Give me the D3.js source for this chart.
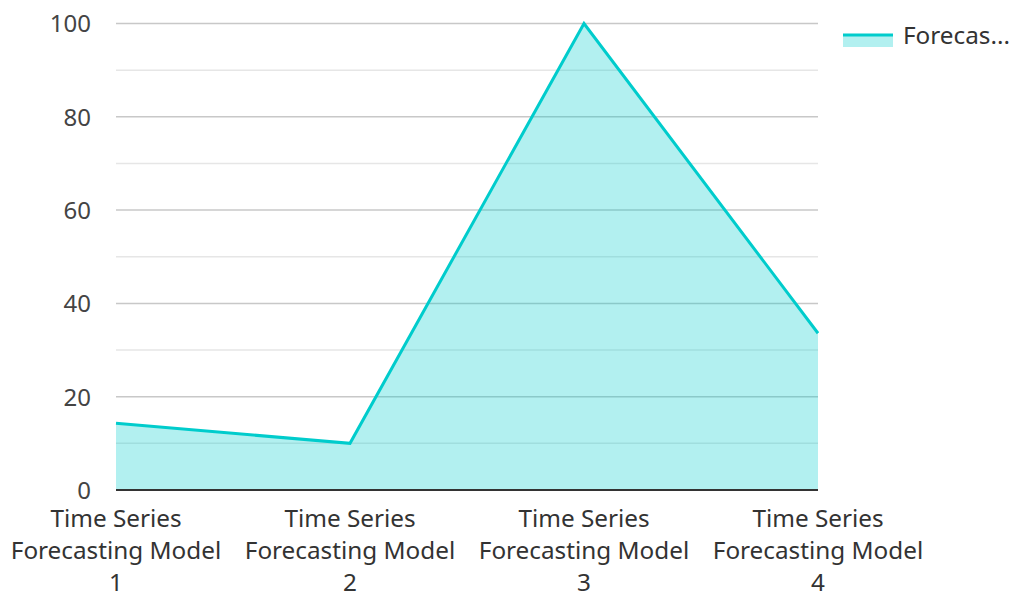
<!DOCTYPE html>
<html><head><meta charset="utf-8">
<script src="https://cdn.jsdelivr.net/npm/d3@7"></script>
<style>body{margin:0;background:#fff}svg{display:block}text{font-family:"Noto Sans",sans-serif}</style>
</head><body><svg id="c" width="1013" height="594"></svg>
<script>
const categories = ["Time Series Forecasting Model 1","Time Series Forecasting Model 2","Time Series Forecasting Model 3","Time Series Forecasting Model 4"];
const labelLines = [["Time Series","Forecasting Model","1"],["Time Series","Forecasting Model","2"],["Time Series","Forecasting Model","3"],["Time Series","Forecasting Model","4"]];
const values = [14.3, 10, 100, 33.6];
const seriesName = "Forecas...";
const yTicks = [0,20,40,60,80,100];
const yMinor = [10,30,50,70,90];

const svg = d3.select("#c");
const x = d3.scalePoint().domain(categories).range([116, 818]);
const y = d3.scaleLinear().domain([0,100]).range([490, 23.5]);

svg.append("g").selectAll("line").data(yMinor).join("line")
  .attr("x1",116).attr("x2",818).attr("y1",d=>y(d)).attr("y2",d=>y(d))
  .attr("stroke","#e6e6e6").attr("stroke-width",1.5);
svg.append("g").selectAll("line").data(yTicks.filter(d=>d>0)).join("line")
  .attr("x1",116).attr("x2",818).attr("y1",d=>y(d)).attr("y2",d=>y(d))
  .attr("stroke","#c8c8c8").attr("stroke-width",1.5);

const yAxis = d3.axisLeft(y).tickValues(yTicks).tickSize(0).tickPadding(0);
const ga = svg.append("g").attr("transform","translate(91,0)").call(yAxis);
ga.select(".domain").remove();
ga.selectAll("text").attr("font-size",24).attr("fill","#444").attr("font-family","Noto Sans").attr("dy","0.35em");

const area = d3.area().x((d,i)=>x(categories[i])).y0(y(0)).y1(d=>y(d));
const line = d3.line().x((d,i)=>x(categories[i])).y(d=>y(d));
svg.append("path").attr("d",area(values)).attr("fill","#00cccc").attr("fill-opacity",0.3);
svg.append("path").attr("d",line(values)).attr("fill","none").attr("stroke","#00cccc").attr("stroke-width",3).attr("stroke-linejoin","miter");

svg.append("line").attr("x1",116).attr("x2",818).attr("y1",y(0)).attr("y2",y(0)).attr("stroke","#333").attr("stroke-width",2);

const xl = svg.append("g");
categories.forEach((c,i)=>{
  const t = xl.append("text").attr("x",x(c)).attr("text-anchor","middle").attr("font-size",24.3).attr("fill","#333");
  labelLines[i].forEach((s,j)=>{
    t.append("tspan").attr("x",x(c)).attr("y",527+j*32).text(s);
  });
});

svg.append("rect").attr("x",843).attr("y",34).attr("width",50).attr("height",13).attr("fill","#00cccc").attr("fill-opacity",0.3);
svg.append("line").attr("x1",843).attr("x2",893).attr("y1",35).attr("y2",35).attr("stroke","#00cccc").attr("stroke-width",3);
svg.append("text").attr("x",903).attr("y",44).attr("font-size",24.3).attr("fill","#333").text(seriesName);
</script></body></html>
